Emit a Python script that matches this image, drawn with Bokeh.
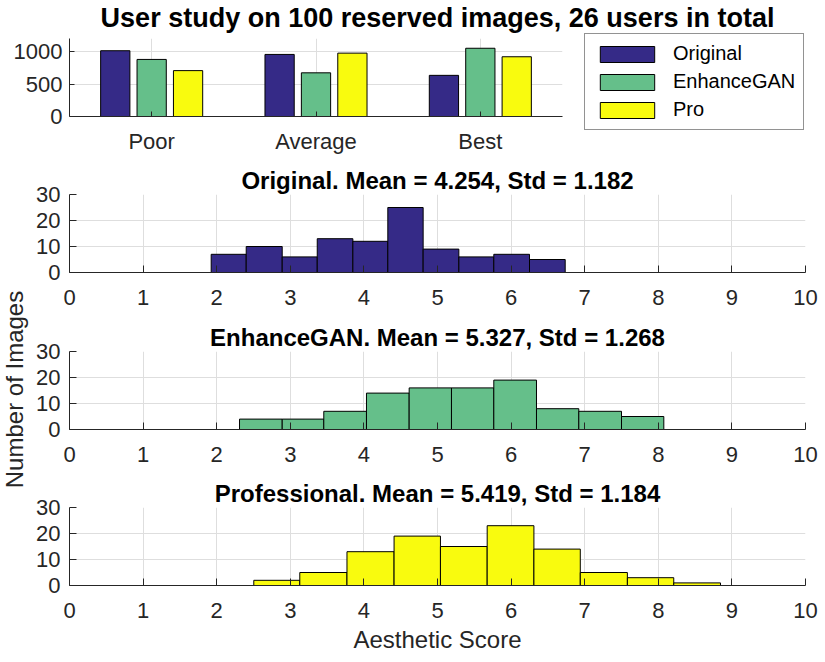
from bokeh.plotting import figure
from bokeh.models import FactorRange, Legend, LegendItem, Label, ColumnDataSource
from bokeh.transform import dodge
from bokeh.layouts import column, row
from bokeh.embed import file_html
from bokeh.resources import INLINE

FONT = "Liberation Sans"
AX = "#262626"
GRID = "#dedede"
C_ORIG = "#352A87"
C_ENH = "#65BF8A"
C_PRO = "#F9FB0E"

# ---- data: vote counts per rating category ----
categories = ["Poor", "Average", "Best"]
series_names = ["Original", "EnhanceGAN", "Pro"]
original_votes = [1012, 955, 633]
enhancegan_votes = [878, 672, 1050]
pro_votes = [706, 975, 919]
vote_ticks = [0, 500, 1000]

# ---- data: aesthetic score histograms (bin edges and counts) ----
orig_edges = [1.925, 2.401, 2.890, 3.366, 3.850, 4.325, 4.805, 5.290, 5.765, 6.250, 6.735]
orig_counts = [7, 10, 6, 13, 12, 25, 9, 6, 7, 5]
enh_edges = [2.310, 2.890, 3.455, 4.035, 4.615, 5.190, 5.765, 6.345, 6.920, 7.500, 8.075]
enh_counts = [4, 4, 7, 14, 16, 16, 19, 8, 7, 5]
pro_edges = [2.504, 3.129, 3.770, 4.410, 5.040, 5.675, 6.310, 6.940, 7.580, 8.210, 8.845]
pro_counts = [2, 5, 13, 19, 15, 23, 14, 5, 3, 1]
score_ticks = list(range(0, 11))
count_ticks = [0, 10, 20, 30]

main_title = "User study on 100 reserved images, 26 users in total"
hist_titles = ["Original. Mean = 4.254, Std = 1.182",
               "EnhanceGAN. Mean = 5.327, Std = 1.268",
               "Professional. Mean = 5.419, Std = 1.184"]
y_label = "Number of Images"
x_label = "Aesthetic Score"


def blank_fig(w, h):
    f = figure(width=w, height=h, x_range=(0, 1), y_range=(0, 1),
               output_backend="svg", toolbar_location=None, min_border=0,
               x_axis_location=None, y_axis_location=None)
    f.outline_line_color = None
    f.xgrid.visible = False
    f.ygrid.visible = False
    f.frame_align = False
    return f


def style_axes(fig, tick_in):
    for ax in (fig.xaxis[0], fig.yaxis[0]):
        ax.axis_line_color = AX
        ax.axis_line_width = 1
        ax.major_tick_line_color = AX
        ax.major_tick_in = tick_in
        ax.major_tick_out = 0
        ax.minor_tick_line_color = None
        ax.major_label_text_font = FONT
        ax.major_label_text_font_size = "22px"
        ax.major_label_text_color = AX
    for g in (fig.xgrid[0], fig.ygrid[0]):
        g.grid_line_color = GRID
        g.grid_line_width = 1
    fig.outline_line_color = None
    fig.background_fill_color = "white"
    fig.border_fill_color = "white"


# ---- overall title ----
tfig = blank_fig(825, 33)
tfig.add_layout(Label(x=437, y=16, x_units="screen", y_units="screen", text=main_title,
                      text_align="center", text_baseline="middle",
                      text_font=FONT, text_font_size="27px", text_font_style="bold",
                      text_color="black"))

# ---- top grouped bar chart ----
p = figure(width=584, height=127, x_range=FactorRange(*categories, range_padding=0),
           y_range=(0, 1200), output_backend="svg", toolbar_location=None,
           min_border_left=69, min_border_right=22, min_border_top=5, min_border_bottom=44)
p.frame_align = False
src = ColumnDataSource(dict(cats=categories, orig=original_votes,
                            enh=enhancegan_votes, pro=pro_votes))
bw = 0.178
p.vbar(x=dodge("cats", -0.2215, range=p.x_range), top="orig", width=bw, source=src,
       fill_color=C_ORIG, line_color="black", line_width=1)
p.vbar(x=dodge("cats", 0.0, range=p.x_range), top="enh", width=bw, source=src,
       fill_color=C_ENH, line_color="black", line_width=1)
p.vbar(x=dodge("cats", 0.2215, range=p.x_range), top="pro", width=bw, source=src,
       fill_color=C_PRO, line_color="black", line_width=1)
style_axes(p, 5)
p.yaxis.ticker = vote_ticks
p.yaxis.major_label_standoff = 7
p.xaxis.major_label_standoff = 12

# ---- legend (own panel to the right of the bar chart) ----
# legend swatches come from placeholder renderers kept below the visible range
lfig = blank_fig(241, 127)
items = []
for name, col in zip(series_names, [C_ORIG, C_ENH, C_PRO]):
    rr = lfig.vbar(x=[0.5], bottom=[-2], top=[-1], width=0.1,
                   fill_color=col, line_color="black", line_width=1)
    items.append(LegendItem(label=name, renderers=[rr]))
legend = Legend(items=items, location="top_left")
legend.label_text_font = FONT
legend.label_text_font_size = "20px"
legend.label_text_color = "black"
legend.glyph_width = 68
legend.glyph_height = 20
legend.label_height = 20
legend.label_standoff = 12
legend.spacing = 5
legend.padding = 8
legend.margin = 0
legend.border_line_color = AX
legend.border_line_width = 1
legend.background_fill_color = "white"
legend.background_fill_alpha = 1
lfig.add_layout(legend)


# ---- histograms ----
def hist(title, edges, counts, color, height, top, bottom, xlabel=None):
    h = figure(width=795, height=height, x_range=(0, 10), y_range=(0, 30),
               output_backend="svg", toolbar_location=None,
               min_border_left=39, min_border_right=20,
               min_border_top=top, min_border_bottom=bottom)
    h.quad(left=edges[:-1], right=edges[1:], bottom=0, top=counts,
           fill_color=color, line_color="black", line_width=1)
    style_axes(h, 7)
    h.xaxis.ticker = score_ticks
    h.yaxis.ticker = count_ticks
    h.yaxis.major_label_standoff = 9
    h.xaxis.major_label_standoff = 17
    h.title.text = title
    h.title.align = "center"
    h.title.text_font = FONT
    h.title.text_font_size = "24px"
    h.title.text_font_style = "bold"
    h.title.text_color = "black"
    h.title.standoff = 1
    if xlabel:
        h.xaxis.axis_label = xlabel
        h.xaxis.axis_label_text_font = FONT
        h.xaxis.axis_label_text_font_size = "24px"
        h.xaxis.axis_label_text_font_style = "normal"
        h.xaxis.axis_label_text_color = AX
        h.xaxis.axis_label_standoff = 5
    return h


h1 = hist(hist_titles[0], orig_edges, orig_counts, C_ORIG, 156, 34, 44)
h2 = hist(hist_titles[1], enh_edges, enh_counts, C_ENH, 156, 35, 43)
h3 = hist(hist_titles[2], pro_edges, pro_counts, C_PRO, 186, 35, 73, x_label)

lab = blank_fig(30, 498)
lab.add_layout(Label(x=14, y=269, x_units="screen", y_units="screen",
                     text=y_label, angle=90, angle_units="deg",
                     text_align="center", text_baseline="middle",
                     text_font=FONT, text_font_size="24px", text_color=AX))

layout = column(tfig, row(p, lfig), row(lab, column(h1, h2, h3)))
open("out.html", "w").write(file_html(layout, INLINE))
